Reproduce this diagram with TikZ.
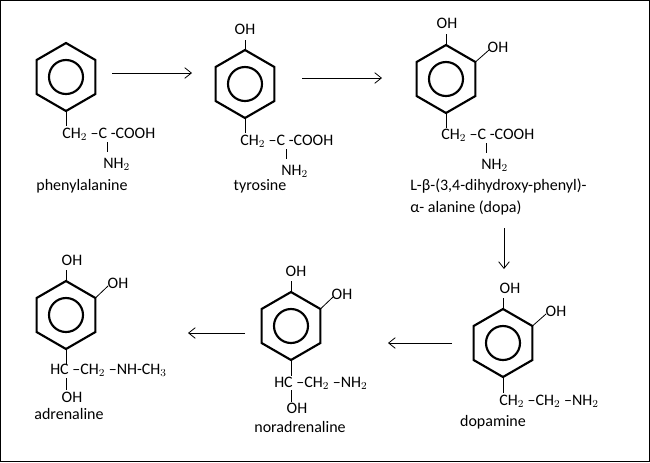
\documentclass[tikz,border=0pt]{standalone}
\usepackage{fontspec}
\setmainfont{Carlito}
\usetikzlibrary{arrows.meta}
\newcommand{\benz}[3]{%
  \coordinate (#1-c) at (#2,#3);
  \coordinate (#1-t) at ($(#1-c)+(0,-34)$);
  \coordinate (#1-ur) at ($(#1-c)+(29.4,-17)$);
  \coordinate (#1-lr) at ($(#1-c)+(29.4,17)$);
  \coordinate (#1-b) at ($(#1-c)+(0,34)$);
  \coordinate (#1-ll) at ($(#1-c)+(-29.4,17)$);
  \coordinate (#1-ul) at ($(#1-c)+(-29.4,-17)$);
  \draw[ring] (#1-t)--(#1-ur)--(#1-lr)--(#1-b)--(#1-ll)--(#1-ul)--cycle;
  \draw[ring] (#1-c) circle[radius=17];}
\usetikzlibrary{calc}
\begin{document}
\begin{tikzpicture}[x=0.75pt,y=-0.75pt,font=\fontsize{12}{14}\selectfont,
  ring/.style={line width=1.6pt,line join=miter},
  bond/.style={line width=0.6pt},
  arr/.style={line width=0.6pt,-{Straight Barb[length=5pt,width=8pt]}},
  txt/.style={inner sep=0pt,anchor=base west},
  lab/.style={inner sep=0pt,anchor=base}]
\useasboundingbox (0,0) rectangle (650,462);
\draw[line width=1pt] (0.5,0.5) rectangle (649.5,461.5);
% phenylalanine
\benz{p}{66}{77}
\node[txt] (p1) at (62,138) {CH$_2$ –C -COOH};
\draw[bond] (p-b) -- (66,126);
\draw[bond] (107,142) -- (107,152);
\node[txt] (p2) at (103,168) {NH$_2$};
\node[lab] (pl) at (82,190) {phenylalanine};
% tyrosine
\benz{t}{245}{84}
\node[lab] (toh) at (245,34) {OH};
\draw[bond] (t-t) -- (245,40);
\draw[bond] (t-b) -- (245,133);
\node[txt] (t1) at (240,145) {CH$_2$ –C -COOH};
\draw[bond] (286,149) -- (286,159);
\node[txt] (t2) at (281,175) {NH$_2$};
\node[lab] (tl) at (260,190) {tyrosine};
% dopa
\benz{d}{446}{79}
\node[lab] (doh1) at (447,28) {OH};
\draw[bond] (d-t) -- (446,34);
\node[lab] (doh2) at (498,52) {OH};
\draw[bond] (d-ur) -- (489,50);
\draw[bond] (d-b) -- (446,128);
\node[txt] (d1) at (441,139) {CH$_2$ –C -COOH};
\draw[bond] (486,143) -- (486,153);
\node[txt] (d2) at (481,169) {NH$_2$};
\node[txt] (dl1) at (410,190) {L-β-(3,4-dihydroxy-phenyl)-};
\node[txt] (dl2) at (410,212) {α- alanine (dopa)};
% dopamine
\benz{m}{503}{343}
\node[lab] (moh1) at (510,293) {OH};
\draw[bond] (m-t) -- (503,298);
\node[lab] (moh2) at (556,316) {OH};
\draw[bond] (m-ur) -- (546,314);
\draw[bond] (m-b) -- (503,393);
\node[txt] (m1) at (499,405) {CH$_2$ –CH$_2$ –NH$_2$};
\node[lab] (ml) at (493,426) {dopamine};
% noradrenaline
\benz{n}{291}{326}
\node[lab] (noh1) at (296,276) {OH};
\draw[bond] (n-t) -- (291,281);
\node[lab] (noh2) at (342,299) {OH};
\draw[bond] (n-ur) -- (333,297);
\draw[bond] (n-b) -- (291,376);
\node[txt] (n1) at (274,387) {HC –CH$_2$ –NH$_2$};
\draw[bond] (291,390) -- (291,402);
\node[lab] (n2) at (297,413) {OH};
\node[lab] (nl) at (300,432) {noradrenaline};
% adrenaline
\benz{a}{66}{315}
\node[lab] (aoh1) at (72,265) {OH};
\draw[bond] (a-t) -- (66,270);
\node[lab] (aoh2) at (118,288) {OH};
\draw[bond] (a-ur) -- (108,286);
\draw[bond] (a-b) -- (66,364);
\node[txt] (a1) at (50,374) {HC –CH$_2$ –NH-CH$_3$};
\draw[bond] (66,378) -- (66,390);
\node[lab] (a2) at (72,402) {OH};
\node[lab] (al) at (69,419) {adrenaline};
% arrows
\coordinate (A1s) at (112,73); \coordinate (A1e) at (192,73);
\coordinate (A2s) at (302,78); \coordinate (A2e) at (382,78);
\coordinate (A3s) at (504,228); \coordinate (A3e) at (504,269);
\coordinate (A4s) at (452,343); \coordinate (A4e) at (388,343);
\coordinate (A5s) at (245,333); \coordinate (A5e) at (188,333);
\draw[arr] (A1s) -- (A1e);
\draw[arr] (A2s) -- (A2e);
\draw[arr] (A3s) -- (A3e);
\draw[arr] (A4s) -- (A4e);
\draw[arr] (A5s) -- (A5e);
\end{tikzpicture}
\end{document}
